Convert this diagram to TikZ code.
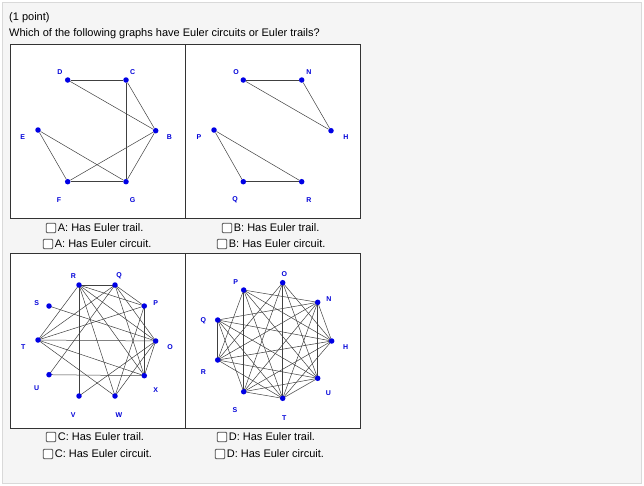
\documentclass[tikz,border=0pt]{standalone}
\usepackage{fontspec}
\setmainfont{Liberation Sans}
\begin{document}
\begin{tikzpicture}[x=1pt,y=-1pt,
  v/.style={circle,fill=blue!90!black,inner sep=0pt,minimum size=5.5pt},
  lab/.style={text=blue!85!black,font=\fontsize{7}{8}\selectfont\bfseries,inner sep=0pt},
  ed/.style={draw=black!75,line width=0.5pt},
  panel/.style={draw=black!80,line width=1pt,fill=white},
  txt/.style={font=\fontsize{11}{13}\selectfont,anchor=west,inner sep=0pt},
  cb/.style={draw=black!70,line width=0.8pt,fill=white,rounded corners=1pt,minimum size=9.5pt,inner sep=0pt}]
\useasboundingbox (0,0) rectangle (644,485);
\draw[black!15,fill=black!4] (2,2) rectangle (641,483);
\node[txt] (t1) at (9,18) {(1 point)};
\node[txt] (t2) at (9,34) {Which of the following graphs have Euler circuits or Euler trails?};
\draw[panel] (10,44) rectangle (185,218);
\draw[panel] (185,44) rectangle (360,218);
\draw[panel] (10,253) rectangle (185,428);
\draw[panel] (185,253) rectangle (360,428);
% Graph A
\foreach \n/\x/\y/\lx/\ly in {D/67.7/80/60/72,C/126/80/132.7/72,B/155.7/130.7/169.3/136.7,E/38/130/22.7/136.7,F/67.7/181.7/59/200,G/126/181.7/132.7/200}{
  \node[v] (a\n) at (\x,\y) {}; \node[lab] (la\n) at (\lx,\ly) {\n};}
\foreach \a/\b in {D/C,D/B,C/B,C/G,E/F,E/G,F/G,F/B,G/B} \draw[ed] (a\a)--(a\b);
% Graph B
\foreach \n/\x/\y/\lx/\ly in {O/243.3/80/236/72,N/301.7/80/309/72,H/331/130.7/346/136.7,P/214/130/199/136.7,Q/243.3/181.7/235/200,R/301.7/181.7/309/200}{
  \node[v] (b\n) at (\x,\y) {}; \node[lab] (lb\n) at (\lx,\ly) {\n};}
\foreach \a/\b in {O/N,O/H,N/H,P/Q,P/R,Q/R} \draw[ed] (b\a)--(b\b);
% Graph C
\foreach \n/\x/\y/\lx/\ly in {R/79/285/73.3/276,Q/115/285/119/276,P/144.3/306/155.7/303,O/155.7/341/170/346.7,X/144.3/375.7/155.7/390,W/115/396/119/415,V/79/396/73.3/415,U/49/374.7/36.7/388,T/38/340/23.3/346.7,S/49/306/36.7/303}{
  \coordinate (c\n) at (\x,\y); \node[lab] (lc\n) at (\lx,\ly) {\n};}
\foreach \a/\b in {R/Q,R/V,R/T,R/P,R/O,R/X,R/W,Q/P,Q/O,Q/X,Q/T,Q/U,P/T,P/X,P/W,O/T,O/S,O/V,O/W,O/X,X/U,X/T,T/W}
  \draw[ed] (c\a)--(c\b);
\foreach \n in {R,Q,P,O,X,W,V,U,T,S} \node[v] (vc\n) at (c\n) {};
% Graph D
\foreach \n/\x/\y/\lx/\ly in {O/282.7/282.7/284.3/274,N/317.7/302.3/329/299.3,H/331.7/341/345.7/346.7,U/317.7/378.3/328.3/393.3,T/282.7/398.3/284.3/418.3,S/243.7/391.7/235/410,R/217.7/360/203.3/371.7,Q/217.7/320/203.3/321,P/243.7/290/235.7/282.3}{
  \coordinate (d\n) at (\x,\y); \node[lab] (ld\n) at (\lx,\ly) {\n};}
\foreach \a/\b in {P/N,P/H,P/U,P/T,P/R,P/S,O/T,O/R,O/S,O/U,O/H,N/Q,N/R,N/S,N/T,N/U,N/H,H/Q,H/R,H/S,H/T,U/Q,U/R,U/S,U/T,T/Q,T/R,T/S,S/Q,R/Q}
  \draw[ed] (d\a)--(d\b);
\foreach \n in {O,N,H,U,T,S,R,Q,P} \node[v] (vd\n) at (d\n) {};
% checkboxes
\foreach \k/\x/\y/\t in {1/51/228/A: Has Euler trail.,2/48/244/A: Has Euler circuit.,3/227/228/B: Has Euler trail.,4/222/244/B: Has Euler circuit.,5/51/437/C: Has Euler trail.,6/48/454/C: Has Euler circuit.,7/222/437/D: Has Euler trail.,8/220/454/D: Has Euler circuit.}{
  \node[cb] (cb\k) at (\x,\y) {};
  \node[txt] (ct\k) at ([xshift=1.5pt]cb\k.east) {\t};}
\end{tikzpicture}
\end{document}
